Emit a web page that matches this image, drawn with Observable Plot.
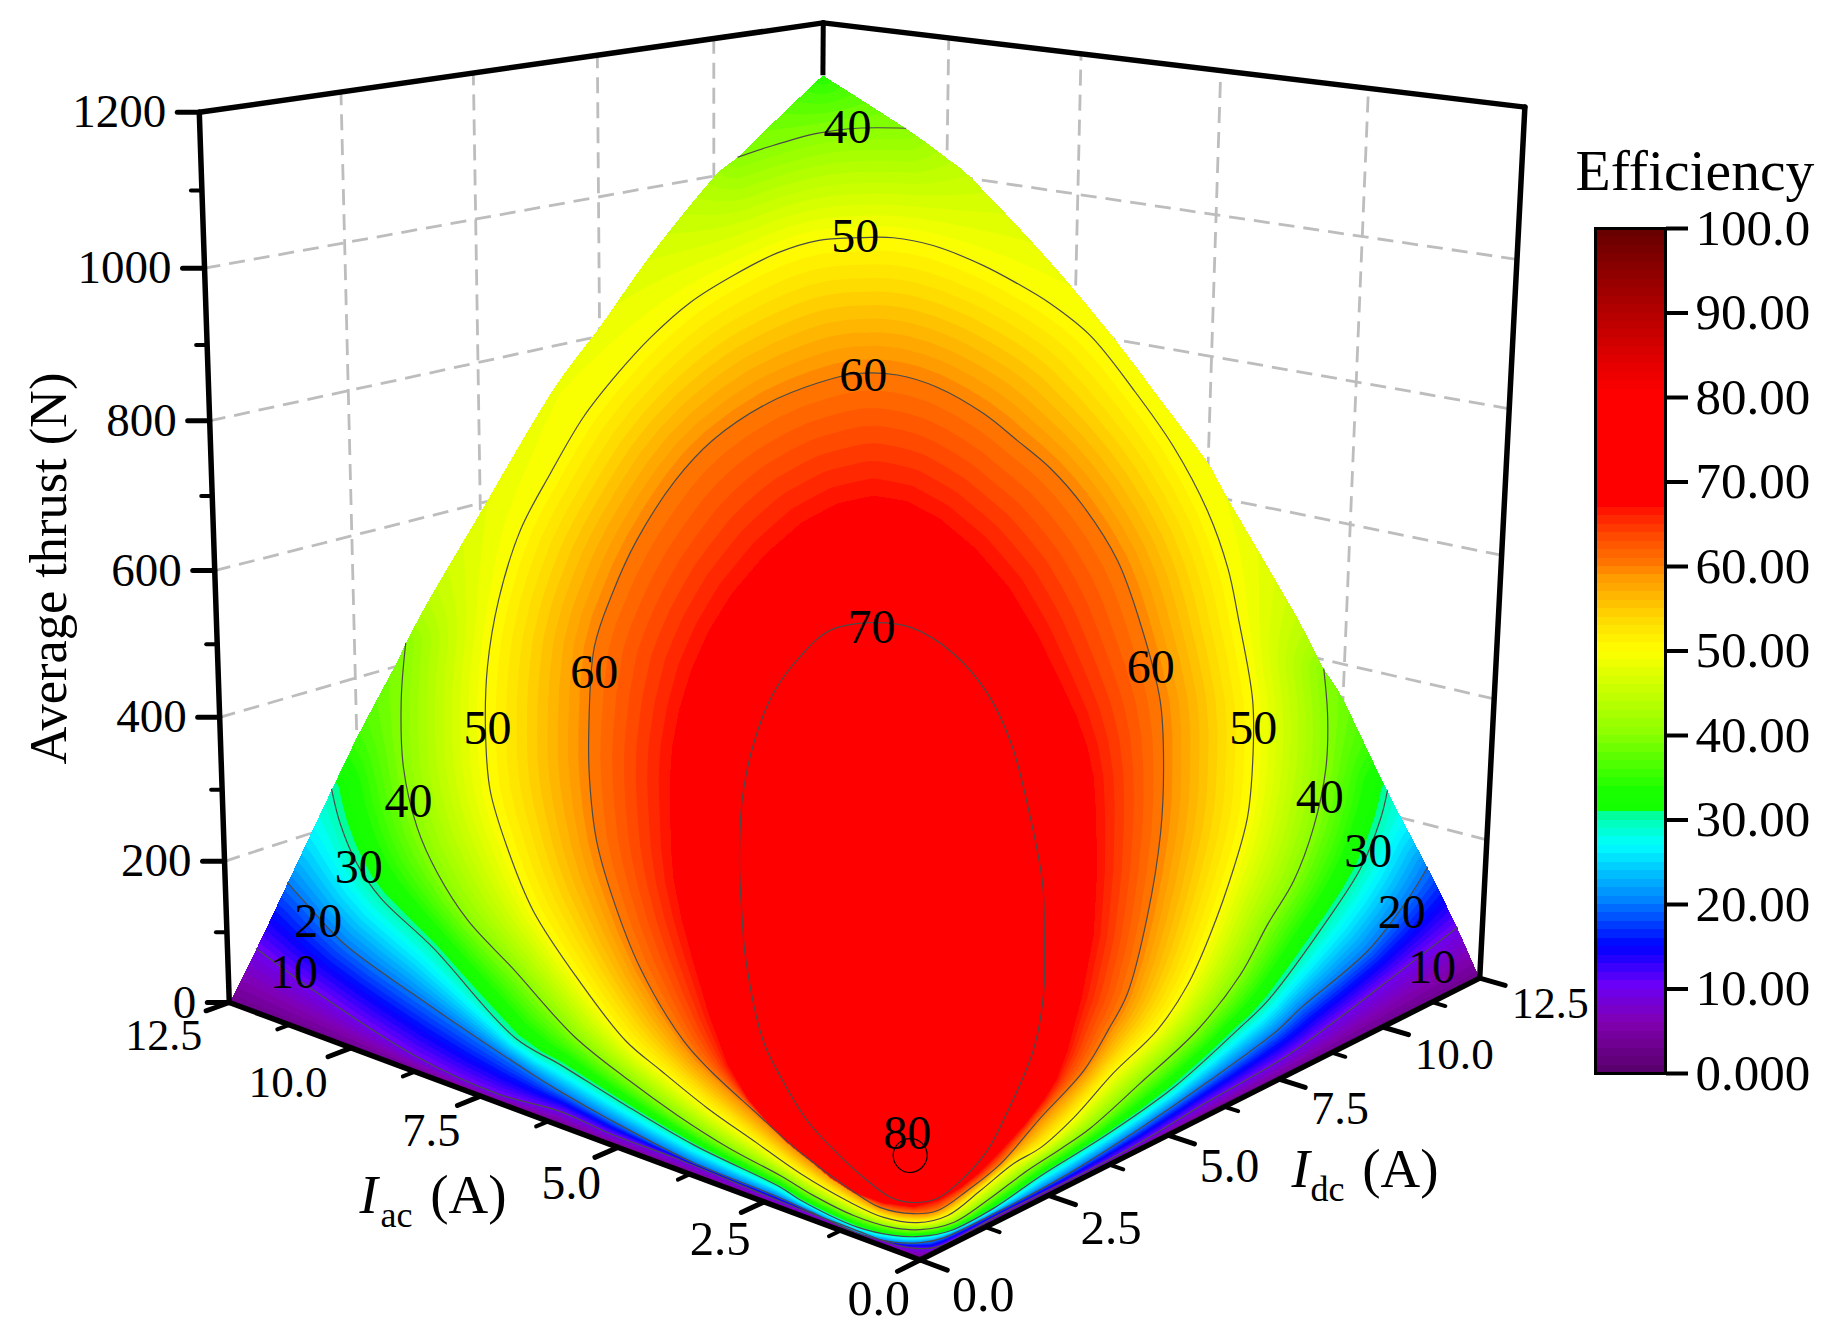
<!DOCTYPE html>
<html><head><meta charset="utf-8">
<script src="https://cdn.jsdelivr.net/npm/d3@7"></script>
<script src="https://cdn.jsdelivr.net/npm/@observablehq/plot@0.6"></script>
<style>body{margin:0;background:#fff}#chart{position:relative;width:1845px;height:1344px}#chart svg{position:absolute;max-width:none}</style>
</head><body><div id="chart"></div>
<script>
// ---- values: each contour is a list of [Iac, Idc] in amperes ----
const contour10=[[12.5,0.52],[11.15,0.36],[8.92,0.14],[7.27,0.08],[6.16,0.14],[5.24,0.11],[4.07,0.12],[2.31,0.09],[1.18,0.1],[0.45,0.12],[0.16,0.26],[0.06,0.46],[0.07,1.63],[0.05,3.07],[0.06,4.49],[0.11,6.01],[0.14,7.73],[0.21,9.08],[0.32,10.9],[0.41,12.5]];
const contour20=[[12.5,1.13],[12.07,1.04],[11.02,0.83],[9.45,0.65],[6.96,0.39],[6.35,0.33],[5.37,0.25],[3.83,0.15],[2.47,0.14],[1.83,0.11],[1.04,0.06],[0.54,0.15],[0.28,0.35],[0.16,0.64],[0.12,1.55],[0.12,2.89],[0.19,4.65],[0.27,6.24],[0.37,7.96],[0.44,8.61],[0.59,10.46],[0.8,11.76],[0.95,12.5]];
const contour30=[[12.5,2],[12.07,1.76],[11.45,1.5],[10.78,1.31],[9.51,1.09],[7.5,0.646],[6.59,0.58],[5.4,0.47],[4.01,0.35],[2.48,0.28],[2.1,0.22],[1.12,0.16],[0.64,0.27],[0.38,0.46],[0.21,0.83],[0.19,1.65],[0.26,2.67],[0.3,4.1],[0.38,5.62],[0.55,7.28],[0.644,8.13],[0.98,10.01],[1.23,11.19],[1.51,12.09],[1.68,12.5]];
const contour40=[[12.5,3.48],[12.09,2.99],[11.47,2.43],[10.74,1.99],[10.04,1.7],[9.19,1.44],[8.1,1.22],[6.65,0.89],[5.52,0.72],[4.51,0.59],[3.55,0.49],[2.61,0.43],[2.01,0.36],[1.32,0.32],[0.79,0.39],[0.48,0.58],[0.3,1],[0.33,1.69],[0.4,2.58],[0.42,3.28],[0.45,3.94],[0.59,5.18],[0.74,6.63],[0.97,7.92],[1.23,8.92],[1.43,9.81],[1.74,10.72],[2.1,11.52],[2.44,12.03],[2.85,12.5]];
const contour40Top=[[12.5,10.54],[12.26,10.94],[11.82,11.59],[11.4,12.04],[10.82,12.5]];
const contour50=[[0.6,0.68],[0.99,0.5],[1.58,0.5],[2.4,0.57],[3.31,0.7],[4.2,0.81],[5.14,0.95],[5.88,1.07],[6.99,1.38],[8.27,1.78],[9.16,2.18],[9.88,2.57],[10.45,3.05],[10.97,3.61],[11.4,4.27],[11.71,5.03],[11.77,5.71],[11.78,6.41],[11.75,7.1],[11.66,7.7],[11.45,8.34],[11.15,8.95],[10.81,9.55],[10.44,10.03],[10.05,10.49],[9.67,10.86],[9.2,11.22],[8.54,11.6],[8.06,11.81],[7.6,12.02],[6.98,12.2],[6.17,12.21],[5.39,12.16],[4.65,12.03],[4.1,11.8],[3.66,11.47],[2.97,10.9],[2.48,10.24],[2.11,9.62],[1.82,8.91],[1.45,7.88],[1.16,6.97],[0.95,6.02],[0.83,4.91],[0.65,3.84],[0.56,3.05],[0.57,2.51],[0.5,1.77],[0.44,1.06]];
const contour60=[[0.76,0.79],[1.15,0.63],[1.74,0.69],[2.63,0.83],[3.6,1.03],[4.5,1.2],[5.1,1.34],[6.3,1.79],[7.25,2.26],[7.93,2.66],[8.53,3.15],[8.91,3.53],[9.55,4.31],[9.77,4.91],[9.89,5.53],[9.87,6.32],[9.77,7],[9.44,7.8],[9.04,8.44],[8.7,8.92],[8.27,9.31],[7.76,9.61],[7.11,9.86],[6.57,9.98],[6.07,10.13],[5.49,10.16],[4.8,10.07],[4.23,9.84],[3.47,9.36],[2.96,8.78],[2.46,8.06],[1.92,7.06],[1.43,5.99],[1.24,5.33],[1.03,4.54],[0.86,3.42],[0.66,2.37],[0.6,1.64],[0.59,1.05]];
const band67=[[0.85,0.9],[1.61,0.66],[2.43,0.79],[3.26,0.96],[4.35,1.36],[5.66,2.13],[6.57,2.74],[7.17,3.32],[7.67,3.89],[8.08,4.72],[8.21,5.7],[7.99,6.9],[7.47,7.85],[6.61,8.29],[5.42,8.38],[4.31,8.14],[3.6,7.87],[3.05,7.36],[2.11,6.12],[1.32,4.56],[1.01,3.67],[0.8,2.54],[0.69,1.61]];
const contour70=[[0.91,0.96],[1.18,0.86],[1.69,0.94],[2.22,1.06],[2.89,1.25],[3.7,1.59],[4.13,1.8],[5.01,2.44],[5.46,2.86],[5.91,3.31],[6.4,3.91],[6.72,4.49],[6.91,5.1],[6.9,5.67],[6.78,6.12],[6.41,6.56],[5.98,6.93],[5.37,7.11],[4.76,7.11],[4.19,6.93],[3.55,6.51],[2.87,5.98],[2.44,5.48],[1.97,4.88],[1.55,4.14],[1.1,2.97],[0.9,2.4],[0.78,1.79],[0.75,1.23]];
const contour80=[[1.65,1.46],[1.73,1.65],[1.67,1.82],[1.51,1.86],[1.34,1.75],[1.25,1.54],[1.3,1.37],[1.46,1.34]];
// label per contour: [text, Iac, Idc]
const contourLabels=[["40",11.53,11.96],["50",10.09,10.48],["60",8.62,8.96],["70",6.36,6.52],["80",1.75,1.85],["60",9.33,4.08],["50",10.46,3.1],["40",11.1,2.17],["30",11.4,1.48],["20",11.64,0.92],["10",11.63,0.44],["60",3.78,9.54],["50",2.75,10.62],["40",1.92,11.12],["30",1.32,11.5],["20",0.73,11.52],["10",0.23,11.58]];
// surface rim: thrust along Iac = 12.5 A and along Idc = 12.5 A
const rimIdc=[0,0.53,1.13,2,2.57,3.23,3.48,3.94,5,6.46,7.48,8.56,9.99,10.53,11.51,12.5];
const rimIdcThrust=[0,64,141,253,324,398,429,481,587,733,811,899,998,1021,1072,1122];
const rimIac=[0,0.41,0.95,1.68,2.51,2.85,3.34,4.64,5.01,5.89,6.7,7.98,9.48,9.99,10.82,12.5];
const rimIacThrust=[0,64,139,234,352,387,452,603,648,725,796,896,998,1024,1060,1122];
const maxThrust=1122;
const floorEfficiency=3;   // along the two floor edges
const tipEfficiency=34;    // at Iac = Idc = 12.5 A
const fullRedFrom=67;      // the colour bar is pure red from here up
// axes
const currentTicks=[0,2.5,5,7.5,10,12.5];
const currentMinorTicks=[1.25,3.75,6.25,8.75,11.25];
const thrustTicks=[0,200,400,600,800,1000,1200];
const thrustMinorTicks=[100,300,500,700,900,1100];
const wallCurrents=[2.5,5,7.5,10];
const wallThrusts=[200,400,600,800,1000];
// colour bar
const colorStops=[0,5.5,10,14.5,20,26.5,29,30.8,31,33,40,49.5,53,58,60,63,65.5,67,80,85,90,95,100];
const colorValues=["#5a006e","#8000b0","#6a00f8","#0000ff","#0084ff","#00ffff","#00ffc0","#00ff80","#14ff00","#1aff00","#90ff00","#ffff00","#ffdc00","#ff9c00","#ff7400","#ff4a00","#ff2000","#ff0000","#ff0000","#d80000","#b00000","#880000","#600000"];
const barLevels=d3.range(0,100);
const barTicks=d3.range(0,101,10);
// perspective camera of the 3-D box (Iac, Idc in A, thrust in hundreds of N)
const camera=[-52.21821,67.5121,-4.027649,919.5424,-7.284509,-7.519732,-87.13023,1259.51,0.01329102,0.01537289,-0.005586664];

// ---- geometry ----
const font="'Liberation Serif','Times New Roman',serif";
function project(i,d,t){const T=t/100,c=camera,w=c[8]*i+c[9]*d+c[10]*T+1;return{x:(c[0]*i+c[1]*d+c[2]*T+c[3])/w,y:(c[4]*i+c[5]*d+c[6]*T+c[7])/w};}
const thrustOfIac=d3.scaleLinear().domain(rimIac).range(rimIacThrust.map(v=>v/maxThrust));
const thrustOfIdc=d3.scaleLinear().domain(rimIdc).range(rimIdcThrust.map(v=>v/maxThrust));
const onSurface=(i,d)=>project(i,d,maxThrust*thrustOfIac(i)*thrustOfIdc(d));
const path=pts=>pts.map(([i,d])=>onSurface(i,d));
// one Catmull-Rom subdivision, so that distances follow the drawn curves
function refine(p,closed){const n=p.length,o=[];const at=k=>closed?p[(k+n)%n]:p[Math.max(0,Math.min(n-1,k))];
 for(let k=0;k<(closed?n:n-1);k++){const a=at(k-1),b=at(k),c=at(k+1),e=at(k+2);o.push(b,{x:(-a.x+9*b.x+9*c.x-e.x)/16,y:(-a.y+9*b.y+9*c.y-e.y)/16});}
 if(closed)o.push(p[0]);else o.push(p[n-1]);return o;}
function flat(p){const f=new Float64Array(p.length*2);p.forEach((q,k)=>{f[2*k]=q.x;f[2*k+1]=q.y;});return f;}
function dist(f,x,y){let best=Infinity;const n=f.length;if(n===2)return Math.hypot(f[0]-x,f[1]-y);
 for(let k=0;k+3<n;k+=2){const ax=f[k],ay=f[k+1],bx=f[k+2]-ax,by=f[k+3]-ay,px=x-ax,py=y-ay,L=bx*bx+by*by;let u=L?(px*bx+py*by)/L:0;u=u<0?0:u>1?1:u;const dx=px-u*bx,dy=py-u*by,s=dx*dx+dy*dy;if(s<best)best=s;}return Math.sqrt(best);}
function region(p){const f=flat(p);let x0=1e9,x1=-1e9,y0=1e9,y1=-1e9;p.forEach(q=>{x0=Math.min(x0,q.x);x1=Math.max(x1,q.x);y0=Math.min(y0,q.y);y1=Math.max(y1,q.y);});
 return(x,y)=>{if(x<x0||x>x1||y<y0||y>y1)return false;let c=false;const n=f.length;for(let a=0,b=n-2;a<n;b=a,a+=2){const ya=f[a+1],yb=f[b+1];if((ya>y)!==(yb>y)&&x<(f[b]-f[a])*(y-ya)/(yb-ya)+f[a])c=!c;}return c;};}

const leftRim=refine(refine(rimIdc.map(d=>onSurface(12.5,d)),false),false);
const rightRim=refine(refine(rimIac.map(i=>onSurface(i,12.5)),false),false);
const floorEdge=[onSurface(12.5,0),onSurface(0,0),onSurface(0,12.5)];
const tip=onSurface(12.5,12.5);
const surfacePolygon=[...floorEdge,...rightRim,...leftRim.slice().reverse()];
const cx=d3.mean(surfacePolygon,p=>p.x),cy=d3.mean(surfacePolygon,p=>p.y);
const out=p=>{const L=Math.hypot(p.x-cx,p.y-cy);return{x:p.x+(p.x-cx)/L*30,y:p.y+(p.y-cy)/L*30};};
const rightFrom=(a,b)=>rimIac.filter(i=>i>a&&i<b).map(i=>out(onSurface(i,12.5)));
const leftFrom=(a,b)=>rimIdc.filter(d=>d>a&&d<b).map(d=>out(onSurface(12.5,d))).reverse();
// open contour with both ends on the rim: region above it closes beyond the rim
function above(c){const s=c[0],e=c[c.length-1],p=refine(path(c),false);
 return{p,poly:[...p,out(p[p.length-1]),...rightFrom(e[0],12.5),out(tip),...leftFrom(s[1],12.5),out(p[0])]};}
const a10=above(contour10),a20=above(contour20),a30=above(contour30);
const line40=refine(path(contour40),false),top40=refine(path(contour40Top),false);
const s40=contour40[0],e40=contour40[contour40.length-1],sTop=contour40Top[0],eTop=contour40Top[contour40Top.length-1];
const poly40=[...line40,out(line40[line40.length-1]),...rightFrom(e40[0],eTop[0]),out(top40[top40.length-1]),...top40.slice().reverse(),out(top40[0]),...leftFrom(s40[1],sTop[1]),out(line40[0])];
const polyTip=[...top40,out(top40[top40.length-1]),out(tip),out(top40[0])];
const loop=c=>refine(path(c),true);
const line50=loop(contour50),line60=loop(contour60),line67=loop(band67);
const bands=[
 {eff:floorEfficiency,inside:()=>true,edges:[flat(floorEdge)]},
 {eff:10,inside:region(a10.poly),edges:[flat(a10.p)]},
 {eff:20,inside:region(a20.poly),edges:[flat(a20.p)]},
 {eff:30,inside:region(a30.poly),edges:[flat(a30.p)]},
 {eff:40,inside:region(poly40),edges:[flat(line40),flat(top40)]},
 {eff:50,inside:region(line50),edges:[flat(line50)]},
 {eff:60,inside:region(line60),edges:[flat(line60)]},
 {eff:fullRedFrom,inside:region(line67),edges:[flat(line67)]}];
const inSurface=region(surfacePolygon),inTip=region(polyTip),tipEdge=flat([tip]),top40Edge=flat(top40);
const toEdges=(es,x,y)=>{let m=Infinity;for(const e of es){const v=dist(e,x,y);if(v<m)m=v;}return m;};
// efficiency between the read contours: blended by the distance to the contour below and above
function efficiency(x,y){
 if(!inSurface(x,y))return -1e5;
 if(inTip(x,y)){const a=dist(tipEdge,x,y),b=dist(top40Edge,x,y);return tipEfficiency+(40-tipEfficiency)*a/(a+b);}
 let k=bands.length-1;while(k>0&&!bands[k].inside(x,y))k--;
 if(k===bands.length-1)return fullRedFrom+1;
 const a=toEdges(bands[k].edges,x,y),b=toEdges(bands[k+1].edges,x,y);
 return bands[k].eff+(bands[k+1].eff-bands[k].eff)*a/(a+b);
}

const lineRows=(pts,group)=>path(pts).map(p=>({...p,group}));
const openLines=[contour10,contour20,contour30,contour40,contour40Top].flatMap((p,k)=>lineRows(p,k));
const closedLines=[contour50,contour60,contour70].flatMap((p,k)=>lineRows(p,k));
const seg=(a,b)=>({x1:a.x,y1:a.y,x2:b.x,y2:b.y});
const grid=[
 ...wallThrusts.map(t=>seg(project(12.5,0,t),project(12.5,12.5,t))),
 ...wallThrusts.map(t=>seg(project(0,12.5,t),project(12.5,12.5,t))),
 ...wallCurrents.map(v=>seg(project(12.5,v,0),project(12.5,v,1200))),
 ...wallCurrents.map(v=>seg(project(v,12.5,0),project(v,12.5,1200)))];
const box=[
 seg(project(12.5,0,0),project(12.5,0,1200)),
 seg(project(12.5,0,1200),project(12.5,12.5,1200)),
 seg(project(12.5,12.5,1200),project(0,12.5,1200)),
 seg(project(0,12.5,1200),project(0,12.5,0)),
 seg(project(12.5,0,0),project(0,0,0)),
 seg(project(0,0,0),project(0,12.5,0))];
const backEdge=[seg(project(12.5,12.5,1200),tip)];
const tickOut=(t,len)=>{const p=project(12.5,0,t);return seg(p,{x:p.x-len,y:p.y});};
const majorTicks=[
 ...thrustTicks.map(t=>tickOut(t,22)),
 ...currentTicks.map(v=>seg(project(v,0,0),project(v,-0.42,0))),
 ...currentTicks.map(v=>seg(project(0,v,0),project(-0.42,v,0)))];
const minorTicks=[
 ...thrustMinorTicks.map(t=>tickOut(t,11)),
 ...currentMinorTicks.map(v=>seg(project(v,0,0),project(v,-0.22,0))),
 ...currentMinorTicks.map(v=>seg(project(0,v,0),project(-0.22,v,0)))];
const thrustLabels=thrustTicks.map(t=>{const p=project(12.5,0,t);return{x:p.x-33,y:p.y,text:String(t)};});
const iacLabels=currentTicks.map(v=>{const p=project(v,0,0),u=v/12.5;return{x:p.x-10-17*u,y:p.y+39-6*u,text:v.toFixed(1),size:50-6*u};});
const idcLabels=currentTicks.map(v=>{const p=project(0,v,0),u=v/12.5;return{x:p.x+32,y:p.y+35-9*u,text:v.toFixed(1),size:50-6*u};});
const labelRows=contourLabels.map(([text,i,d])=>({...onSurface(i,d),text}));

const colorScale={type:"linear",domain:colorStops,range:colorValues,interpolate:"rgb",clamp:true};
const T=(data,o)=>Plot.text(data,{fontFamily:font,fill:"black",...o});

const main=Plot.plot({
 width:1845,height:1344,margin:0,
 x:{domain:[0,1845],range:[0,1845],axis:null},
 y:{domain:[0,1344],range:[0,1344],axis:null},
 color:colorScale,
 style:{background:"none",fontFamily:font},
 marks:[
  Plot.link(grid,{x1:"x1",y1:"y1",x2:"x2",y2:"y2",stroke:"#bdbdbd",strokeWidth:2.8,strokeDasharray:"16,9"}),
  Plot.link(backEdge,{x1:"x1",y1:"y1",x2:"x2",y2:"y2",stroke:"black",strokeWidth:5}),
  Plot.contour({fill:efficiency,x1:0,y1:0,x2:1845,y2:1344,thresholds:d3.range(0,fullRedFrom+1),stroke:"none",pixelSize:1,blur:0}),
  Plot.line(openLines,{x:"x",y:"y",z:"group",stroke:"#4a4a4a",strokeWidth:1.2,curve:"catmull-rom"}),
  Plot.line(closedLines,{x:"x",y:"y",z:"group",stroke:"#4a4a4a",strokeWidth:1.2,curve:"catmull-rom-closed"}),
  Plot.line(path(contour80),{x:"x",y:"y",stroke:"black",strokeWidth:1.2,curve:"catmull-rom-closed"}),
  Plot.link(box,{x1:"x1",y1:"y1",x2:"x2",y2:"y2",stroke:"black",strokeWidth:5.5,strokeLinecap:"round"}),
  Plot.link(majorTicks,{x1:"x1",y1:"y1",x2:"x2",y2:"y2",stroke:"black",strokeWidth:5,strokeLinecap:"round"}),
  Plot.link(minorTicks,{x1:"x1",y1:"y1",x2:"x2",y2:"y2",stroke:"black",strokeWidth:4,strokeLinecap:"round"}),
  T(labelRows,{x:"x",y:"y",text:"text",fontSize:48}),
  T(thrustLabels,{x:"x",y:"y",text:"text",fontSize:47,textAnchor:"end"}),
  T(iacLabels,{x:"x",y:"y",text:"text",fontSize:"size",textAnchor:"end"}),
  T(idcLabels,{x:"x",y:"y",text:"text",fontSize:"size",textAnchor:"start"}),
  T(["Average thrust (N)"],{x:49,y:568,rotate:-90,fontSize:52.4}),
  T(["I"],{x:359,y:1212,fontSize:55,fontStyle:"italic",textAnchor:"start",lineAnchor:"bottom"}),
  T(["ac"],{x:380,y:1226,fontSize:36,textAnchor:"start",lineAnchor:"bottom"}),
  T(["(A)"],{x:506,y:1212,fontSize:55,textAnchor:"end",lineAnchor:"bottom"}),
  T(["I"],{x:1291,y:1186,fontSize:55,fontStyle:"italic",textAnchor:"start",lineAnchor:"bottom"}),
  T(["dc"],{x:1310,y:1200,fontSize:36,textAnchor:"start",lineAnchor:"bottom"}),
  T(["(A)"],{x:1438,y:1186,fontSize:55,textAnchor:"end",lineAnchor:"bottom"})
 ]
});
main.style.left="0";main.style.top="0";

const legend=Plot.plot({
 width:305,height:1000,marginLeft:55,marginRight:180,marginTop:98,marginBottom:57,
 x:{axis:null},
 y:{domain:[0,100],axis:null},
 color:colorScale,
 style:{background:"none",fontFamily:font},
 marks:[
  Plot.rect(barLevels,{y1:d=>d,y2:d=>d+1,fill:d=>d,shapeRendering:"crispEdges"}),
  Plot.frame({stroke:"black",strokeWidth:3}),
  Plot.axisY(barTicks,{anchor:"right",tickSize:22,tickPadding:8,strokeWidth:4,fontSize:51,fontFamily:font,fill:"black",label:null,
    tickFormat:v=>v===100?"100.0":v===0?"0.000":v.toFixed(2)}),
  T(["Efficiency"],{frameAnchor:"top-left",dx:-20,dy:-39,fontSize:57.6,textAnchor:"start",lineAnchor:"bottom"})
 ]
});
legend.style.left="1540px";legend.style.top="130px";
document.getElementById("chart").append(main,legend);
</script></body></html>
